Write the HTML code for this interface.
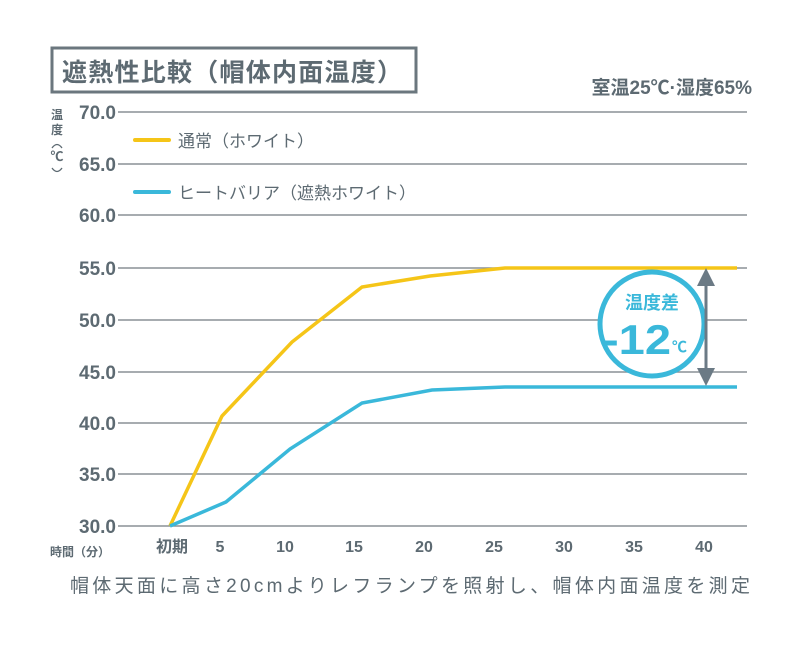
<!DOCTYPE html>
<html><head><meta charset="utf-8"><style>
body{margin:0;background:#fff;}
svg text{font-family:"Liberation Sans","Noto Sans CJK JP",sans-serif;fill:#5d6a72;}
</style></head><body>
<svg width="807" height="644" viewBox="0 0 807 644" xmlns="http://www.w3.org/2000/svg">
<rect x="52" y="48" width="364" height="44" fill="none" stroke="#6b777e" stroke-width="3"/>
<text x="62" y="81" font-size="25" font-weight="bold" textLength="340" lengthAdjust="spacing">遮熱性比較（帽体内面温度）</text>
<text x="752" y="94" font-size="19" font-weight="bold" text-anchor="end">室温25℃·湿度65%</text>
<g stroke="#8a9196" stroke-width="1.5">
<line x1="118" y1="112" x2="747" y2="112"/><line x1="118" y1="164" x2="747" y2="164"/>
<line x1="118" y1="215" x2="747" y2="215"/><line x1="118" y1="268" x2="747" y2="268"/>
<line x1="118" y1="320" x2="747" y2="320"/><line x1="118" y1="372" x2="747" y2="372"/>
<line x1="118" y1="423" x2="747" y2="423"/><line x1="118" y1="474" x2="747" y2="474"/>
<line x1="118" y1="526" x2="747" y2="526"/>
</g>
<g font-size="19" font-weight="bold" text-anchor="end">
<text x="116" y="119">70.0</text><text x="116" y="171">65.0</text><text x="116" y="222">60.0</text>
<text x="116" y="275">55.0</text><text x="116" y="327">50.0</text><text x="116" y="379">45.0</text>
<text x="116" y="430">40.0</text><text x="116" y="481">35.0</text><text x="116" y="533">30.0</text>
</g>
<g font-size="12" font-weight="bold" text-anchor="middle">
<text x="57" y="119">温</text><text x="57" y="134">度</text>
<text x="57" y="161" font-size="13">℃</text>
</g>
<path d="M52 148 Q57 141 62 148 M52 168 Q57 175 62 168" stroke="#5d6a72" stroke-width="1.3" fill="none"/>
<g font-size="16" font-weight="bold" text-anchor="middle">
<text x="172" y="552">初期</text><text x="220" y="552">5</text><text x="285" y="552">10</text>
<text x="354" y="552">15</text><text x="424" y="552">20</text><text x="494" y="552">25</text>
<text x="564" y="552">30</text><text x="634" y="552">35</text><text x="704" y="552">40</text>
</g>
<text x="50" y="556" font-size="12" font-weight="bold">時間（分）</text>
<text x="70" y="592" font-size="19" textLength="680" lengthAdjust="spacing">帽体天面に高さ20cmよりレフランプを照射し、帽体内面温度を測定</text>
<line x1="135" y1="140" x2="169" y2="140" stroke="#f5c518" stroke-width="4" stroke-linecap="round"/>
<text x="178" y="147" font-size="17">通常（ホワイト）</text>
<line x1="135" y1="192" x2="169" y2="192" stroke="#3ab8da" stroke-width="4" stroke-linecap="round"/>
<text x="178" y="199" font-size="17">ヒートバリア（遮熱ホワイト）</text>
<polyline points="170,526 222,416 292,342 362,287 430,276 505,268 737,268" fill="none" stroke="#f5c518" stroke-width="3.5"/>
<polyline points="170,526 226,502 290,449 362,403 432,390 505,387 737,387" fill="none" stroke="#3ab8da" stroke-width="3.5"/>
<circle cx="652" cy="324" r="52" fill="#fff" stroke="#3ab8da" stroke-width="5"/>
<text x="652" y="309" font-size="18" font-weight="bold" text-anchor="middle" style="fill:#3ab8da">温度差</text>
<text x="603" y="354" font-size="42" font-weight="bold" textLength="68" lengthAdjust="spacingAndGlyphs" style="fill:#3ab8da">-12</text>
<text x="672" y="352" font-size="15" font-weight="bold" style="fill:#3ab8da">℃</text>
<line x1="706" y1="282" x2="706" y2="372" stroke="#6b7a85" stroke-width="3"/>
<polygon points="706,268 697,286 715,286" fill="#6b7a85"/>
<polygon points="706,386 697,368 715,368" fill="#6b7a85"/>
</svg>
</body></html>
